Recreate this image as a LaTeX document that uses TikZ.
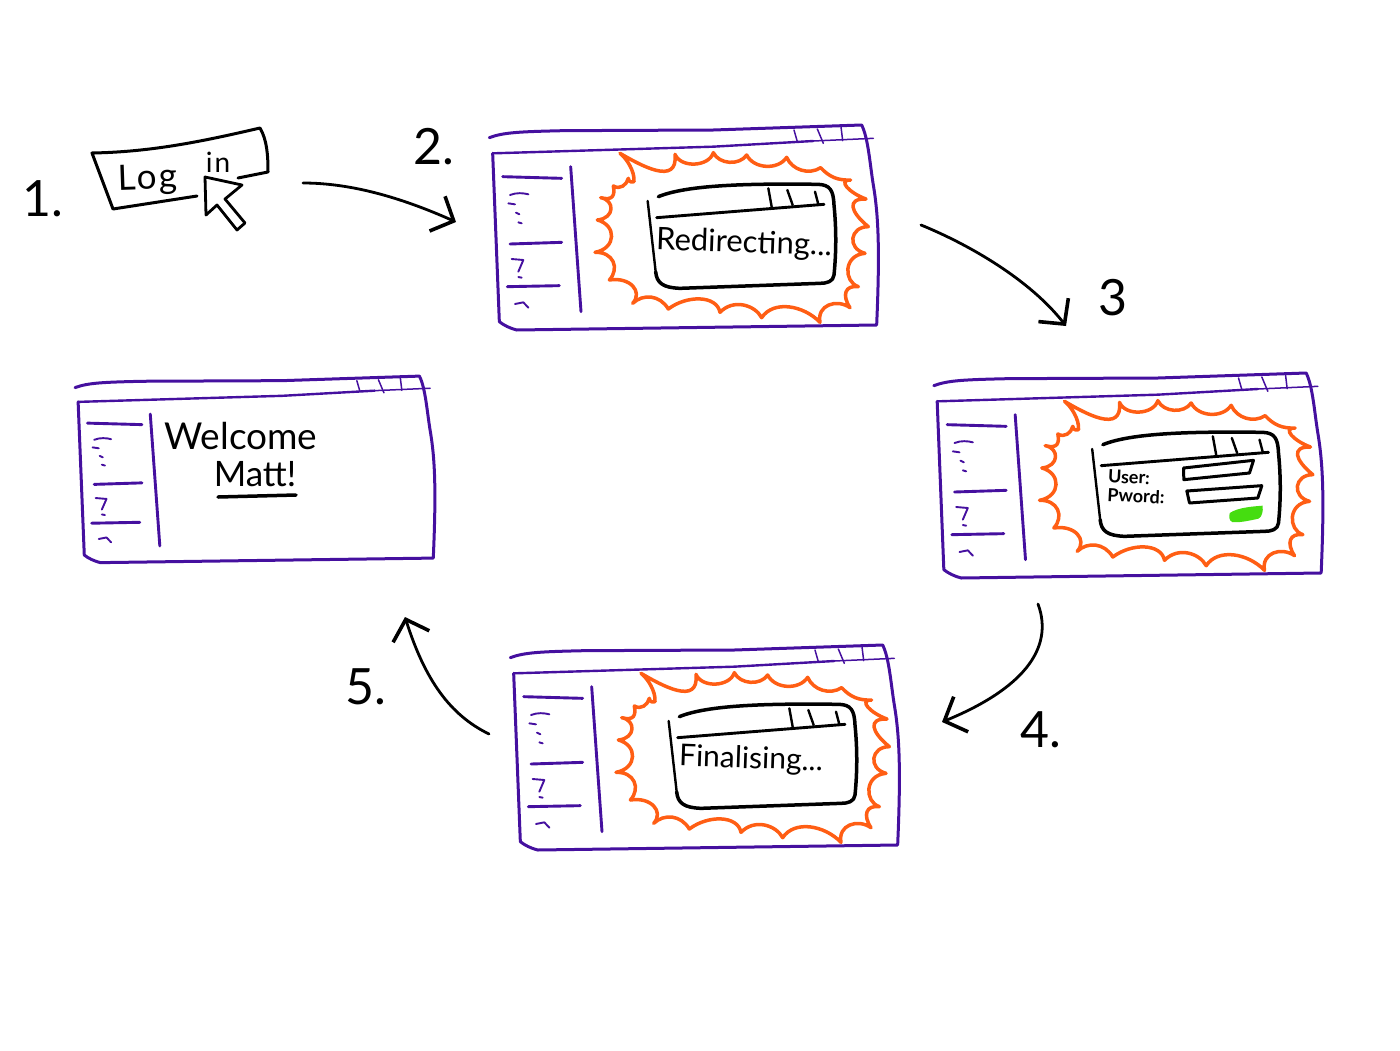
\documentclass[tikz,border=0pt]{standalone}
\usepackage{fontspec}
\setmainfont{Lato}
\usetikzlibrary{arrows.meta}
\definecolor{winpurple}{HTML}{45109F}
\definecolor{burstorange}{HTML}{FF5E14}
\definecolor{okgreen}{HTML}{45DD10}
\tikzset{
  frameline/.style={draw=winpurple,line width=3pt,line cap=round,line join=round},
  thinframe/.style={draw=winpurple,line width=1.5pt,line cap=round},
  markline/.style={draw=winpurple,line width=1.9pt,line cap=round,line join=round},
  sideline/.style={draw=winpurple,line width=2.9pt,line cap=round},
  burstline/.style={draw=burstorange,line width=3.5pt,line cap=round,line join=round},
  dlgline/.style={draw=black,line width=3.5pt,line cap=round,line join=round},
  dlgthin/.style={draw=black,line width=2.4pt,line cap=round},
  flowarrow/.style={draw=black,line width=2.8pt,line cap=round,-{Straight Barb[length=18pt,width=38pt,line width=3.6pt]}},
  steplabel/.style={font=\fontsize{50}{54}\selectfont,text=black,inner sep=0pt},
  penlabel/.style={text=black,inner sep=0pt},
}
\newfontfamily\spacedfont[LetterSpace=7]{Lato}
\newcommand{\winframe}{%
  \path[frameline] (28,68) .. controls (70,52) and (120,50) .. (250,47) -- (700,45) -- (1145,30)
     .. controls (1165,70) and (1170,150) .. (1180,210) .. controls (1195,300) and (1200,400) .. (1190,630)
     -- (110,645) .. controls (90,640) and (70,630) .. (58,620) -- (38,115);
  \path[frameline,line width=2.4pt] (38,115) -- (700,95) -- (1000,78);
  \path[thinframe] (1000,78) -- (1180,70);
  \path[thinframe] (942,45) -- (952,80);
  \path[thinframe] (1012,42) -- (1030,85);
  \path[thinframe] (1083,35) -- (1088,77);
  \path[sideline] (272,155) -- (303,590);
  \path[sideline] (68,185) -- (245,190);
  \path[sideline] (90,387) -- (245,382);
  \path[sideline] (82,515) -- (238,512);
  \path[markline] (90,240) .. controls (110,232) and (130,234) .. (145,238);
  \path[markline] (85,265) -- (105,268);
  \path[markline] (108,293) -- (118,298);
  \path[markline] (115,322) -- (125,325);
  \path[markline] (95,432) -- (130,435) -- (115,470);
  \path[markline] (115,486) -- (125,488);
  \path[markline] (105,567) -- (130,562) -- (145,578);
}
\newcommand{\winburst}{%
  \path[burstline] (420,115) .. controls (480,150) and (595,215) .. (585,118)
    to[bend right=70] (700,113) to[bend right=60] (800,120) to[bend right=60] (920,127)
    to[bend right=50] (1022,158) to[bend right=25] (1112,195)
    .. controls (1070,195) and (1110,235) .. (1158,252)
    .. controls (1100,250) and (1110,290) .. (1165,335)
    .. controls (1110,335) and (1100,400) .. (1155,415)
    .. controls (1090,420) and (1090,500) .. (1135,515)
    .. controls (1095,510) and (1085,540) .. (1110,578)
    .. controls (1070,550) and (1010,570) .. (1020,622)
    .. controls (970,570) and (880,555) .. (845,608)
    .. controls (825,570) and (760,550) .. (720,592)
    .. controls (710,540) and (620,540) .. (565,582)
    .. controls (540,540) and (490,535) .. (458,565)
    .. controls (490,530) and (450,485) .. (388,495)
    .. controls (420,460) and (400,410) .. (345,412)
    .. controls (410,400) and (410,330) .. (352,315)
    .. controls (405,310) and (405,255) .. (362,248)
    .. controls (400,258) and (405,240) .. (400,213)
    .. controls (420,225) and (440,210) .. (445,190)
    .. controls (445,205) and (460,200) .. (462,200)
    .. controls (465,170) and (440,130) .. (420,115);
}
\newcommand{\windialog}{%
  \path[dlgline] (535,245) .. controls (620,210) and (800,205) .. (1015,208)
    .. controls (1050,210) and (1060,225) .. (1062,270) .. controls (1070,350) and (1068,420) .. (1062,480)
    .. controls (1060,500) and (1040,505) .. (1020,505) -- (600,520)
    .. controls (550,518) and (530,505) .. (527,470);
  \path[dlgline,line width=2.4pt] (527,470) -- (503,258);
  \path[dlgline,line width=2.9pt] (530,308) -- (1032,268);
  \path[dlgthin] (865,220) -- (875,275);
  \path[dlgthin] (922,225) -- (938,270);
  \path[dlgthin] (1005,230) -- (1015,268);
}
\begin{document}
\begin{tikzpicture}[x=1pt,y=-1pt]
\useasboundingbox (0,0) rectangle (1400,1050);

% step 1: log in button
\path[dlgline,line width=3pt] (238,178) -- (268,172) .. controls (268,155) and (267,140) .. (260,128)
   .. controls (200,142) and (150,152) .. (92,153) -- (113,209) -- (197,196);
\node[penlabel,font=\fontsize{35}{38}\selectfont\spacedfont,rotate=2] (logword) at (148,180) {Log};
\node[penlabel,font=\fontsize{28}{32}\selectfont\spacedfont] (inword) at (218,162) {in};
\path[dlgline,line width=2.8pt] (205,177) -- (242,185) -- (225,199) -- (245,223) -- (237,230) -- (217,205) -- (206,215) -- cycle;
\node[steplabel] (one) at (43,199) {1.};
\node[steplabel] (two) at (434,147) {2.};
\node[steplabel] (three) at (1113,298) {3};
\node[steplabel] (four) at (1041,730) {4.};
\node[steplabel] (five) at (366,687) {5.};

% step 2 window
\begin{scope}[shift={(480,115)},x=0.33333pt,y=-0.33333pt]
  \winframe \winburst \windialog
\end{scope}
\node[penlabel,font=\fontsize{31}{34}\selectfont,rotate=-2] (redir) at (744,244) {Redirecting...};

% step 3 window
\begin{scope}[shift={(924.5,363)},x=0.33333pt,y=-0.33333pt]
  \winframe \winburst \windialog
  \path[dlgline,line width=3pt] (777,315) -- (987,292) -- (975,330) -- (778,350) -- cycle;
  \path[dlgline,line width=3pt] (787,384) -- (1012,368) -- (1000,405) -- (795,420) -- cycle;
  \path[fill=okgreen] (916,450) .. controls (940,433) and (990,430) .. (1014,428) .. controls (1017,445) and (1012,462) .. (1002,467) .. controls (970,474) and (940,480) .. (923,477) .. controls (913,472) and (913,460) .. (916,450) -- cycle;
\end{scope}
\node[penlabel,font=\fontsize{18}{22}\selectfont\bfseries,rotate=-3] (userlab) at (1129,477) {User:};
\node[penlabel,font=\fontsize{18}{22}\selectfont\bfseries,rotate=-3] (pwordlab) at (1136,496) {Pword:};

% step 4 window
\begin{scope}[shift={(501,635)},x=0.33333pt,y=-0.33333pt]
  \winframe \winburst \windialog
\end{scope}
\node[penlabel,font=\fontsize{30}{34}\selectfont,rotate=-2] (final) at (751,760) {Finalising...};

% step 5 window
\begin{scope}[shift={(66.4,367)},x=0.3083pt,y=-0.3033pt]
  \winframe
\end{scope}
\node[penlabel,font=\fontsize{37}{40}\selectfont] (welcome) at (241,436) {Welcome};
\node[penlabel,font=\fontsize{35}{38}\selectfont] (matt) at (255,474) {Matt!};
\coordinate (ulstart) at (218,497);
\coordinate (ulend) at (296,495);
\draw[dlgline] (ulstart) -- (ulend);

% arrows
\coordinate (a1s) at (303,183);
\coordinate (a1e) at (456,222);
\coordinate (a2s) at (921,225);
\coordinate (a2e) at (1066,326);
\coordinate (a3s) at (1038,604);
\coordinate (a3e) at (942,722);
\coordinate (a4s) at (489,734);
\coordinate (a4e) at (405,617);
\draw[flowarrow] (a1s) .. controls (350,183) and (400,197) .. (a1e);
\draw[flowarrow] (a2s) .. controls (970,245) and (1030,280) .. (a2e);
\draw[flowarrow] (a3s) .. controls (1055,650) and (1020,690) .. (a3e);
\draw[flowarrow] (a4s) .. controls (450,715) and (425,680) .. (a4e);
\end{tikzpicture}
\end{document}
